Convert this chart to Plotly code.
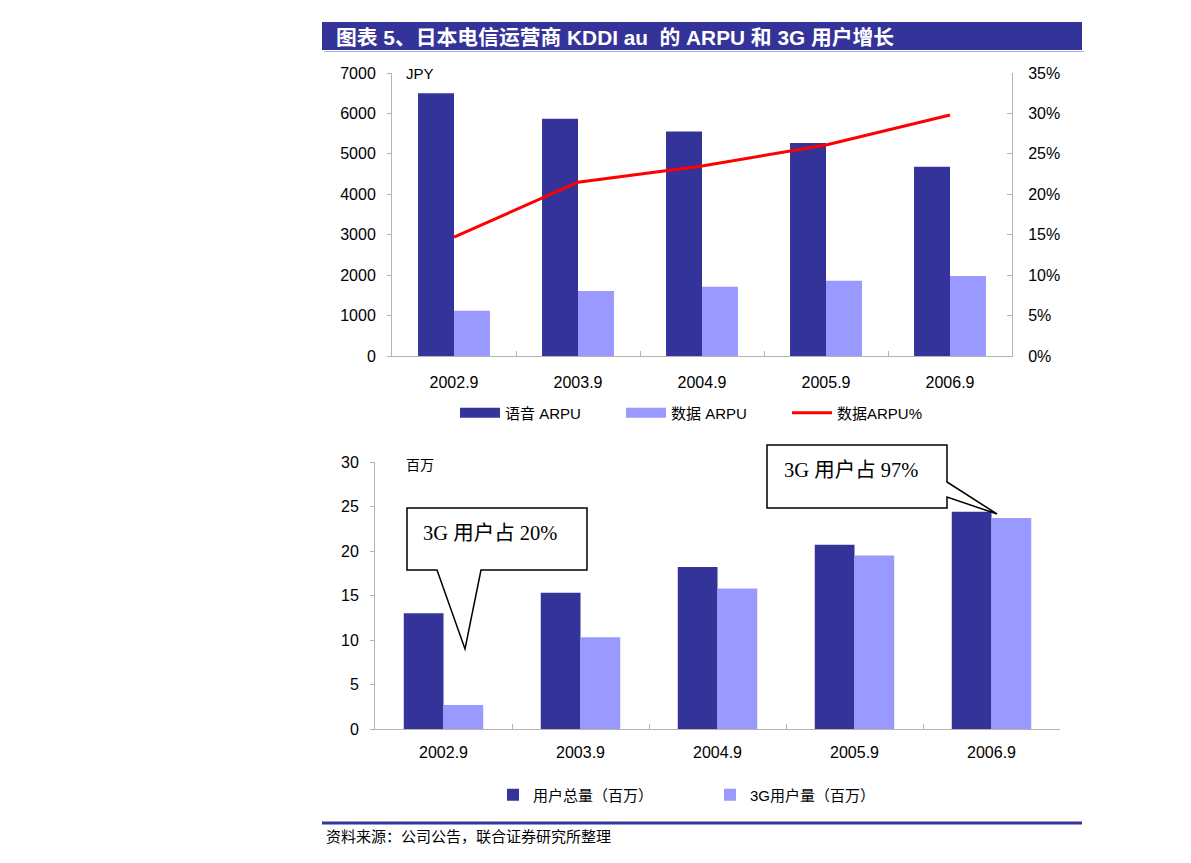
import plotly.graph_objects as go

W, H = 1191, 863

# ---------------- data ----------------
periods = ["2002.9", "2003.9", "2004.9", "2005.9", "2006.9"]
voice_arpu = [6500, 5870, 5550, 5270, 4680]
data_arpu = [1120, 1610, 1710, 1860, 1980]
data_arpu_pct = [0.147, 0.215, 0.235, 0.261, 0.298]

total_users = [13.0, 15.3, 18.2, 20.7, 24.4]
users_3g = [2.7, 10.3, 15.8, 19.5, 23.7]

title_text = "图表 5、日本电信运营商 KDDI au  的 ARPU 和 3G 用户增长"
source_text = "资料来源：公司公告，联合证券研究所整理"
callout1 = "3G 用户占 20%"
callout2 = "3G 用户占 97%"

DARK = "#333399"
LIGHT = "#9999FF"
RED = "#FF0000"
AXC = "#B4B4B4"
FONT = "Liberation Sans, Arial, Noto Sans CJK SC, sans-serif"
SERIF = "Liberation Serif, Times New Roman, Noto Sans CJK SC, serif"


def px(x):
    return x / W


def py(y):
    return 1 - y / H


fig = go.Figure()

# top chart
fig.add_trace(go.Bar(x=periods, y=voice_arpu, name="语音 ARPU", marker_color=DARK,
                     marker_line_width=0, xaxis="x", yaxis="y", showlegend=False))
fig.add_trace(go.Bar(x=periods, y=data_arpu, name="数据 ARPU", marker_color=LIGHT,
                     marker_line_width=0, xaxis="x", yaxis="y", showlegend=False))
# legend proxies for wide swatches
fig.add_trace(go.Scatter(x=[None], y=[None], mode="lines", name="语音 ARPU",
                         line=dict(color=DARK, width=13), xaxis="x", yaxis="y", legend="legend"))
fig.add_trace(go.Scatter(x=[None], y=[None], mode="lines", name="数据 ARPU",
                         line=dict(color=LIGHT, width=13), xaxis="x", yaxis="y", legend="legend"))
fig.add_trace(go.Scatter(x=periods, y=data_arpu_pct, mode="lines", name="数据ARPU%",
                         line=dict(color=RED, width=3), xaxis="x", yaxis="y2", legend="legend"))

# bottom chart
fig.add_trace(go.Bar(x=periods, y=total_users, name="用户总量（百万）", marker_color=DARK,
                     marker_line_width=0, xaxis="x2", yaxis="y3", legend="legend2"))
fig.add_trace(go.Bar(x=periods, y=users_3g, name="3G用户量（百万）", marker_color=LIGHT,
                     marker_line_width=0, xaxis="x2", yaxis="y3", legend="legend2"))

tickfont = dict(family=FONT, size=16, color="#000000")

fig.update_layout(
    template="none",
    width=W, height=H, autosize=False,
    margin=dict(l=0, r=0, t=0, b=0, pad=0),
    paper_bgcolor="white", plot_bgcolor="white",
    font=dict(family=FONT, size=15, color="#000000"),
    barmode="group", bargap=0.42, bargroupgap=0,
    xaxis=dict(domain=[px(392), px(1012)], anchor="y", type="category", automargin=False,
               showline=True, linecolor=AXC, linewidth=1, ticks="inside", ticklen=5,
               tickcolor=AXC, tickson="boundaries", showgrid=False, tickfont=tickfont,
               ticklabelstandoff=12, fixedrange=True),
    yaxis=dict(domain=[py(356), py(73)], anchor="x", range=[0, 7000], dtick=1000,
               automargin=False,
               showline=True, linecolor=AXC, linewidth=1, ticks="outside", ticklen=4,
               tickcolor=AXC, showgrid=False, zeroline=False, tickfont=tickfont,
               ticklabelstandoff=8, tickformat="d"),
    yaxis2=dict(overlaying="y", side="right", anchor="x", range=[0, 0.35], dtick=0.05,
                automargin=False,
                tickformat=".0%", showline=True, linecolor=AXC, linewidth=1,
                ticks="inside", ticklen=5, tickcolor=AXC, showgrid=False, zeroline=False,
                tickfont=tickfont, ticklabelstandoff=12),
    xaxis2=dict(domain=[px(375), px(1060)], anchor="y3", type="category", automargin=False,
                showline=True, linecolor=AXC, linewidth=1, ticks="inside", ticklen=5,
                tickcolor=AXC, tickson="boundaries", showgrid=False, tickfont=tickfont,
                ticklabelstandoff=9),
    yaxis3=dict(domain=[py(729), py(462)], anchor="x2", range=[0, 30], dtick=5,
                automargin=False,
                showline=True, linecolor=AXC, linewidth=1, ticks="outside", ticklen=4,
                tickcolor=AXC, showgrid=False, zeroline=False, tickfont=tickfont,
                ticklabelstandoff=8),
    legend=dict(orientation="h", x=px(455), xanchor="left", y=py(413), yanchor="middle",
                font=dict(family=FONT, size=15), itemwidth=40, entrywidth=111,
                bgcolor="rgba(0,0,0,0)", itemclick=False, itemdoubleclick=False),
    legend2=dict(orientation="h", x=px(493), xanchor="left", y=py(795), yanchor="middle",
                 font=dict(family=FONT, size=15), itemwidth=30, entrywidth=172,
                 bgcolor="rgba(0,0,0,0)", itemclick=False, itemdoubleclick=False),
    showlegend=True,
)

shapes = []
# title bar
shapes.append(dict(type="rect", xref="paper", yref="paper", x0=px(322), x1=px(1082),
                   y0=py(50), y1=py(22), fillcolor=DARK, line=dict(width=0), layer="below"))
shapes.append(dict(type="line", xref="paper", yref="paper", x0=px(324), x1=px(1084),
                   y0=py(51.5), y1=py(51.5), line=dict(color="#AAAADD", width=1)))
# bottom rule
shapes.append(dict(type="line", xref="paper", yref="paper", x0=px(322), x1=px(1082),
                   y0=py(823), y1=py(823), line=dict(color=DARK, width=3)))


def path(pts):
    s = "M " + " L ".join(f"{px(x):.5f},{py(y):.5f}" for x, y in pts) + " Z"
    return s


shapes.append(dict(type="path", xref="paper", yref="paper",
                   path=path([(407, 508), (587, 508), (587, 570), (481, 570), (465, 649),
                              (437, 570), (407, 570)]),
                   fillcolor="white", line=dict(color="black", width=1.5)))
shapes.append(dict(type="path", xref="paper", yref="paper",
                   path=path([(767, 445), (947, 445), (947, 482), (997, 514), (947, 497),
                              (947, 508), (767, 508)]),
                   fillcolor="white", line=dict(color="black", width=1.5)))
fig.update_layout(shapes=shapes)

ann = []
ann.append(dict(text=f"<b>{title_text}</b>", xref="paper", yref="paper", x=px(334), y=py(37),
                xanchor="left", yanchor="middle", showarrow=False,
                font=dict(family=FONT, size=20.8, color="white")))
ann.append(dict(text="JPY", xref="paper", yref="paper", x=px(404), y=py(74),
                xanchor="left", yanchor="middle", showarrow=False,
                font=dict(family=FONT, size=15)))
ann.append(dict(text="百万", xref="paper", yref="paper", x=px(404), y=py(464),
                xanchor="left", yanchor="middle", showarrow=False,
                font=dict(family="Noto Sans CJK SC", size=14)))
ann.append(dict(text=callout1, xref="paper", yref="paper", x=px(421), y=py(533),
                xanchor="left", yanchor="middle", showarrow=False,
                font=dict(family=SERIF, size=20.5)))
ann.append(dict(text=callout2, xref="paper", yref="paper", x=px(782), y=py(470),
                xanchor="left", yanchor="middle", showarrow=False,
                font=dict(family=SERIF, size=20.5)))
ann.append(dict(text=source_text, xref="paper", yref="paper", x=px(324), y=py(835),
                xanchor="left", yanchor="middle", showarrow=False,
                font=dict(family="Noto Sans CJK SC", size=15)))
fig.update_layout(annotations=ann)

fig.write_html("out.html")
